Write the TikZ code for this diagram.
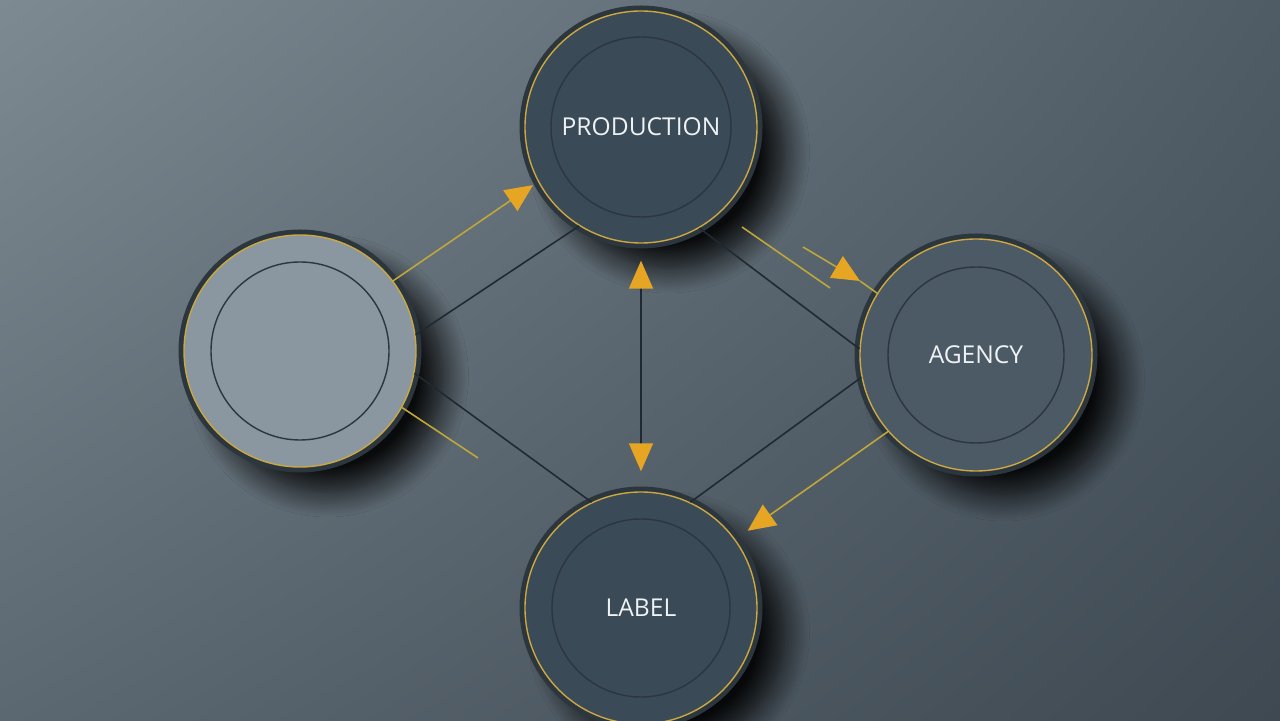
\documentclass[tikz,border=0pt]{standalone}
\usepackage{fontspec}
\setmainfont{Open Sans}
\usepackage{tikz}
\usetikzlibrary{positioning}
\usetikzlibrary{calc}
\usetikzlibrary{arrows.meta}
\usetikzlibrary{shadings}
\usetikzlibrary{shadows.blur}
\definecolor{bgul}{HTML}{7E8A92}
\definecolor{bgur}{HTML}{4F5C66}
\definecolor{bgll}{HTML}{5C6871}
\definecolor{bglr}{HTML}{3E4952}
\definecolor{rimdark}{HTML}{2C363E}
\definecolor{ringgold}{HTML}{CBA842}
\definecolor{tipgold}{HTML}{E6A623}
\definecolor{linegold}{HTML}{BFA83A}
\definecolor{wire}{HTML}{1E2931}
\definecolor{discpale}{HTML}{8A97A0}
\definecolor{discnavy}{HTML}{3B4A57}
\definecolor{discslate}{HTML}{4C5A65}
\definecolor{labeltext}{HTML}{EEF2F4}

\begin{document}
\begin{tikzpicture}
    [disc/.style={circle, draw=ringgold, line width=0.8pt, minimum size=4.64cm, inner sep=0pt,
        blur shadow={shadow xshift=0.55cm, shadow yshift=-0.5cm, shadow blur radius=0.5cm,
            shadow blur steps=14, shadow opacity=90},
        preaction={draw=rimdark, line width=0.22cm},
        text=labeltext, font=\fontsize{14}{16}\selectfont},
    innerring/.style={draw=rimdark, line width=0.8pt},
    wireline/.style={draw=wire, line width=0.9pt},
    goldline/.style={draw=linegold, line width=0.9pt},
    goldarrow/.style={goldline, -{Triangle[length=0.55cm, width=0.5cm, color=tipgold]}}]
     \useasboundingbox (0,0) rectangle (25.6,14.4);
     \clip (0,0) rectangle (25.6,14.4);
     \shade[upper left=bgul, upper right=bgur, lower left=bgll, lower right=bglr] (0,0) rectangle (25.6,14.4);
     %\draw[step=1cm,gray,very thin] (0,0) grid (25.6,14.4);
     \node[disc, fill=discpale]  (src)   at (6.00, 7.38)  {};
     \node[disc, fill=discnavy]  (prod)  at (12.82, 11.86) {PRODUCTION};
     \node[disc, fill=discslate] (agcy)  at (19.52, 7.30)  {AGENCY};
     \node[disc, fill=discnavy]  (lbl)   at (12.82, 2.24)  {LABEL};
     \draw[innerring] (src.center) circle (1.78);
     \draw[innerring] (prod.center) circle (1.80);
     \draw[innerring] (agcy.center) circle (1.76);
     \draw[innerring] (lbl.center) circle (1.78);
     \coordinate (p1) at (14.84, 9.86);
     \coordinate (p2) at (16.60, 8.64);
     \coordinate (p3) at (16.06, 9.46);
     \coordinate (p4) at (17.20, 8.78);
     \coordinate (p5) at (9.56, 5.24);
     \draw[wireline] (src.8) -- (prod.238);
     \draw[wireline] (prod.300) -- (agcy.177);
     \draw[wireline] (src.349) -- (lbl.115);
     \draw[wireline] (lbl.65) -- (agcy.191);
     \draw[wireline, {Triangle[length=0.56cm, width=0.48cm, color=tipgold]}-{Triangle[length=0.56cm, width=0.48cm, color=tipgold]},
        shorten <=0.4cm, shorten >=0.34cm] (lbl) -- (prod);
     \draw[goldarrow, shorten >=0.12cm] (src.37) -- (prod.208);
     \draw[goldline] (p1) -- (p2);
     \draw[goldarrow] (p3) -- (p4);
     \draw[goldline] (p4) -- (agcy.148);
     \draw[goldarrow, shorten >=0.3cm] (agcy.221) -- (lbl.36);
     \draw[goldline] (src.331) -- (p5);
\end{tikzpicture}
\end{document}
